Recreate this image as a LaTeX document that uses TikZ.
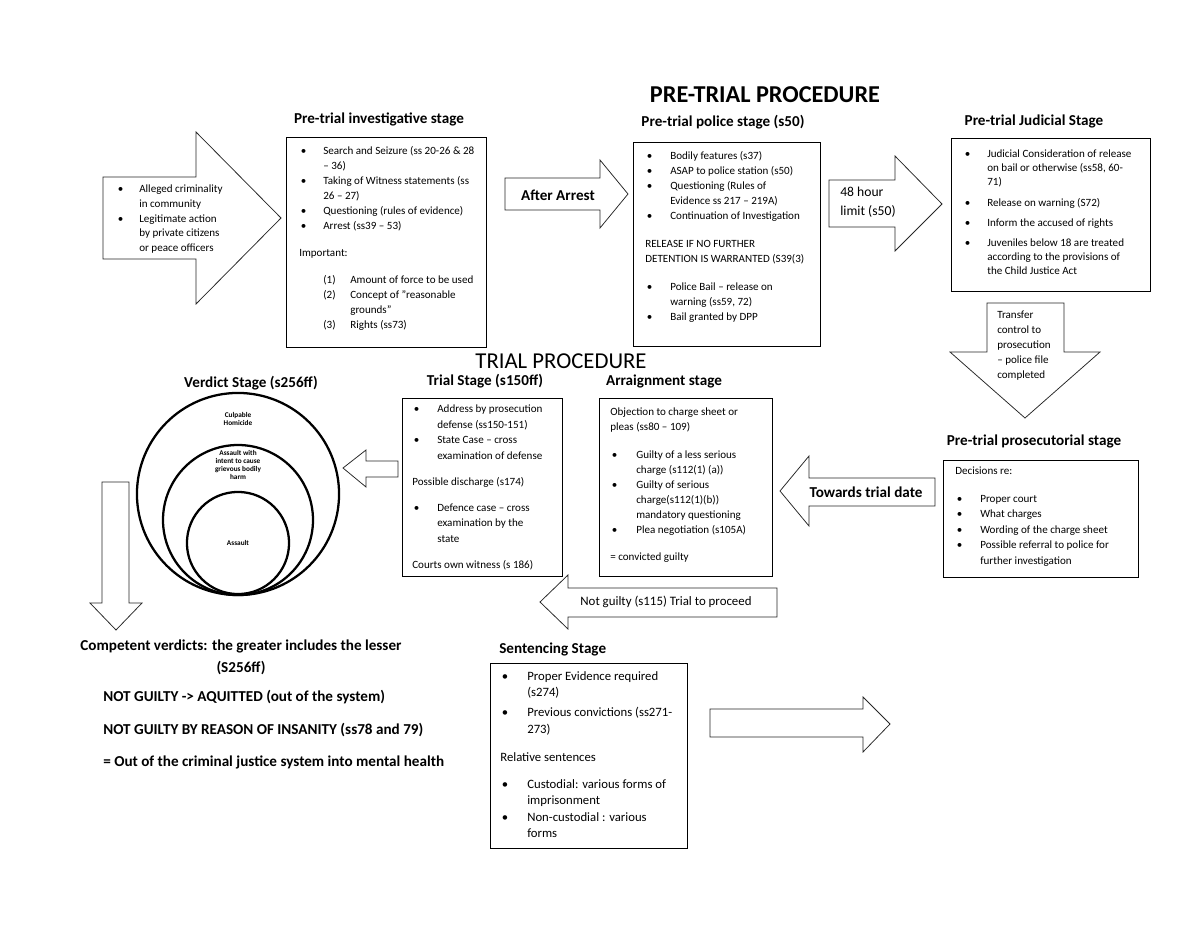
\documentclass[tikz,border=0pt]{standalone}
\usepackage{fontspec}
\setmainfont{Carlito}
\newlength\pxu \setlength\pxu{0.66pt}
\newcommand\Bl[1]{\makebox[#1\pxu][l]{\hspace{1.5\pxu}\textbullet}}
\newcommand\In[1]{\hspace*{#1\pxu}}
\tikzset{
  txt/.style={font=\fontsize{7.3}{9.9}\selectfont, align=left, anchor=north west, inner sep=0pt},
  head/.style={font=\fontsize{10}{12}\selectfont\bfseries, inner sep=0pt},
  title/.style={font=\fontsize{16}{18}\selectfont\bfseries, inner sep=0pt},
  titleb/.style={font=\fontsize{15}{18}\selectfont, inner sep=0pt},
  box/.style={draw=black, line width=0.6pt},
  barrow/.style={draw=black!85, line width=0.5pt, fill=white, line join=miter},
  ring/.style={draw=black, line width=1.5pt},
  ctext/.style={font=\fontsize{4.8}{5.1}\selectfont\bfseries, align=center, inner sep=0pt},
  btext/.style={font=\fontsize{10}{14.5}\selectfont\bfseries, inner sep=0pt},
}
\begin{document}
\begin{tikzpicture}[x=0.66pt,y=-0.66pt]
\fill[white] (0,0) rectangle (1200,927);
\useasboundingbox (0,0) rectangle (1200,927);

% ---------- titles and headings ----------
\node[title] (t1) at (765,95) {PRE-TRIAL PROCEDURE};
\node[titleb] (t2) at (561,361) {TRIAL PROCEDURE};
\node[head] (h1) at (379,119) {Pre-trial investigative stage};
\node[head] (h2) at (723,122) {Pre-trial police stage (s50)};
\node[head] (h3) at (1034,121) {Pre-trial Judicial Stage};
\node[head] (h4) at (1034,441) {Pre-trial prosecutorial stage};
\node[head] (h5) at (664,381) {Arraignment stage};
\node[head] (h6) at (485,381) {Trial Stage (s150ff)};
\node[head] (h7) at (251,383) {Verdict Stage (s256ff)};
\node[head, anchor=west] (h8) at (499,649) {Sentencing Stage};

% ---------- block arrows ----------
\draw[barrow] (103,177) -- (196,177) -- (196,132) -- (281,218) -- (196,304) -- (196,259) -- (103,259) -- cycle;
\draw[barrow] (505,178) -- (600,178) -- (600,160) -- (628,194) -- (600,228) -- (600,210) -- (505,210) -- cycle;
\draw[barrow] (829,180) -- (895,180) -- (895,156) -- (942,204) -- (895,251) -- (895,227) -- (829,227) -- cycle;
\draw[barrow] (987,303) -- (1064,303) -- (1064,352) -- (1100,352) -- (1025,418) -- (950,352) -- (987,352) -- cycle;
\draw[barrow] (935,478) -- (809,478) -- (809,456) -- (780,491) -- (809,526) -- (809,506) -- (935,506) -- cycle;
\draw[barrow] (777,588) -- (568,588) -- (568,575) -- (540,602) -- (568,629) -- (568,617) -- (777,617) -- cycle;
\draw[barrow] (398,461) -- (366,461) -- (366,450) -- (343,468) -- (366,487) -- (366,477) -- (398,477) -- cycle;
\draw[barrow] (102,482) -- (129,482) -- (129,603) -- (142,603) -- (116,630) -- (90,603) -- (102,603) -- cycle;
\draw[barrow] (710,709) -- (863,709) -- (863,697) -- (890,724) -- (863,752) -- (863,737) -- (710,737) -- cycle;

% ---------- boxes ----------
\draw[box] (286,137) rectangle (486,347);
\draw[box] (633,142) rectangle (820,346);
\draw[box] (951,138) rectangle (1150,291);
\draw[box] (943,460) rectangle (1138,577);
\draw[box] (599,398) rectangle (772,576);
\draw[box] (402,398) rectangle (562,576);
\draw[box] (490,663) rectangle (687,848);

% ---------- circles ----------
\draw[ring] (238,494) circle[radius=66.7pt];
\draw[ring] (238,520) circle[radius=49.5pt];
\draw[ring] (238,543) circle[radius=33.7pt];
\node[ctext] (c1) at (238,419) {Culpable\\Homicide};
\node[ctext] (c2) at (238,465) {Assault with\\intent to cause\\grievous bodily\\harm};
\node[ctext] (c3) at (238,543) {Assault};

% ---------- arrow texts ----------
\node[txt, font=\fontsize{7.3}{9.6}\selectfont] (a1) at (116,185)
  {\Bl{23}Alleged criminality\\ \In{23}in community\\ \Bl{23}Legitimate action\\ \In{23}by private citizens\\ \In{23}or peace officers};
\node[btext] (a2) at (558,195) {After Arrest};
\node[txt, font=\fontsize{9}{12.5}\selectfont] (a3) at (840,187) {48 hour\\limit (s50)};
\node[txt] (a4) at (997,311) {Transfer\\control to\\prosecution\\– police file\\completed};
\node[btext] (a5) at (866,492) {Towards trial date};
\node[font=\fontsize{8.5}{10}\selectfont, inner sep=0pt] (a6) at (666,602) {Not guilty (s115) Trial to proceed};

% ---------- box texts ----------
\node[txt] (b1) at (299,146)
  {\Bl{24}Search and Seizure (ss 20-26 \& 28\\
   \In{24}– 36)\\
   \Bl{24}Taking of Witness statements (ss\\
   \In{24}26 – 27)\\
   \Bl{24}Questioning (rules of evidence)\\
   \Bl{24}Arrest (ss39 – 53)\\[8pt]
   Important:\\[8pt]
   \In{24}\makebox[27\pxu][l]{(1)}Amount of force to be used\\
   \In{24}\makebox[27\pxu][l]{(2)}Concept of "reasonable\\
   \In{51}grounds"\\
   \In{24}\makebox[27\pxu][l]{(3)}Rights (ss73)};

\node[txt] (b2) at (645,151)
  {\Bl{25}Bodily features (s37)\\
   \Bl{25}ASAP to police station (s50)\\
   \Bl{25}Questioning (Rules of\\
   \In{25}Evidence ss 217 – 219A)\\
   \Bl{25}Continuation of Investigation\\[8.5pt]
   RELEASE IF NO FURTHER\\
   DETENTION IS WARRANTED (S39(3)\\[8.5pt]
   \Bl{25}Police Bail – release on\\
   \In{25}warning (ss59, 72)\\
   \Bl{25}Bail granted by DPP};

\node[txt, font=\fontsize{7.3}{9.24}\selectfont] (b3) at (963,150)
  {\Bl{24}Judicial Consideration of release\\
   \In{24}on bail or otherwise (ss58, 60-\\
   \In{24}71)\\[4pt]
   \Bl{24}Release on warning (S72)\\[4pt]
   \Bl{24}Inform the accused of rights\\[4pt]
   \Bl{24}Juveniles below 18 are treated\\
   \In{24}according to the provisions of\\
   \In{24}the Child Justice Act};

\node[txt, font=\fontsize{7.3}{10.2}\selectfont] (b4) at (955,467)
  {Decisions re:\\[8pt]
   \Bl{25}Proper court\\
   \Bl{25}What charges\\
   \Bl{25}Wording of the charge sheet\\
   \Bl{25}Possible referral to police for\\
   \In{25}further investigation};

\node[txt] (b5) at (610,408)
  {Objection to charge sheet or\\
   pleas (ss80 – 109)\\[8pt]
   \Bl{26}Guilty of a less serious\\
   \In{26}charge (s112(1) (a))\\
   \Bl{26}Guilty of serious\\
   \In{26}charge(s112(1)(b))\\
   \In{26}mandatory questioning\\
   \Bl{26}Plea negotiation (s105A)\\[8pt]
   = convicted guilty};

\node[txt, font=\fontsize{7.3}{10.2}\selectfont] (b6) at (412,405)
  {\Bl{25}Address by prosecution\\
   \In{25}defense (ss150-151)\\
   \Bl{25}State Case – cross\\
   \In{25}examination of defense\\[7pt]
   Possible discharge (s174)\\[7pt]
   \Bl{25}Defence case – cross\\
   \In{25}examination by the\\
   \In{25}state\\[7pt]
   Courts own witness (s 186)};

\node[txt, font=\fontsize{8.4}{10.9}\selectfont] (b7) at (500,671)
  {\Bl{27}Proper Evidence required\\
   \In{27}(s274)\\[2.3pt]
   \Bl{27}Previous convictions (ss271-\\
   \In{27}273)\\[8pt]
   Relative sentences\\[6.6pt]
   \Bl{27}Custodial: various forms of\\
   \In{27}imprisonment\\
   \Bl{27}Non-custodial : various\\
   \In{27}forms};

% ---------- verdict texts ----------
\node[btext, align=center] (v1) at (241,657) {Competent verdicts: the greater includes the lesser\\(S256ff)};
\node[btext, anchor=west] (v2) at (103,697) {NOT GUILTY -> AQUITTED (out of the system)};
\node[btext, anchor=west] (v3) at (103,730) {NOT GUILTY BY REASON OF INSANITY (ss78 and 79)};
\node[btext, anchor=west] (v4) at (103,762) {= Out of the criminal justice system into mental health};
\end{tikzpicture}
\end{document}
